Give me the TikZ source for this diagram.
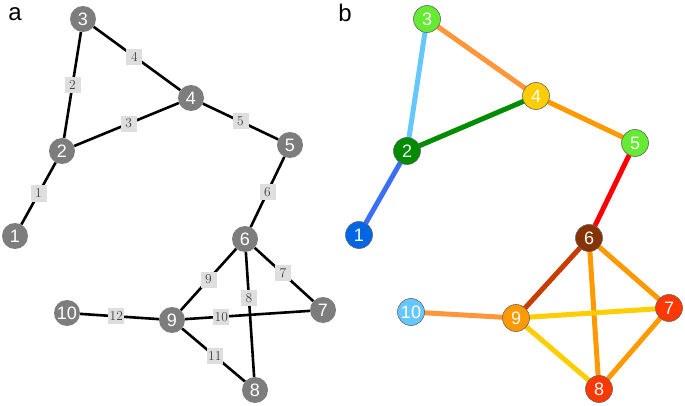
\documentclass[tikz,border=0pt]{standalone}
\usepackage{fontspec}
\newfontfamily\arialfont{Liberation Sans}
\usepackage{tikz}
\usetikzlibrary{positioning,backgrounds}
\definecolor{nodegray}{RGB}{125,125,125}
\definecolor{boxgray}{RGB}{222,222,222}
\definecolor{cBlue}{RGB}{0,102,230}
\definecolor{cBlueE}{RGB}{60,110,245}
\definecolor{cDkGreen}{RGB}{0,140,0}
\definecolor{cLtGreen}{RGB}{100,235,50}
\definecolor{cGold}{RGB}{255,204,0}
\definecolor{cBrown}{RGB}{135,50,5}
\definecolor{cRedOr}{RGB}{255,55,0}
\definecolor{cOrange}{RGB}{255,153,0}
\definecolor{cLtOr}{RGB}{255,150,60}
\definecolor{cSky}{RGB}{100,200,255}
\definecolor{cRust}{RGB}{200,60,0}
\definecolor{cYellow}{RGB}{255,205,0}
\definecolor{cRed}{RGB}{255,0,0}
\tikzset{
  gvtx/.style  ={circle, fill=nodegray, minimum size=26pt, inner sep=0pt,
                 text=white, font=\arialfont\fontsize{18}{18}\selectfont},
  cvtx/.style  ={circle, draw=black!60, line width=0.6pt, minimum size=27pt,
                 inner sep=0pt, text=white,
                 font=\arialfont\fontsize{18}{18}\selectfont},
  gedge/.style ={line width=2.6pt, black},
  cedge/.style ={line width=5pt},
  elbl/.style  ={fill=boxgray, inner sep=1.5pt, minimum size=16pt,
                 font=\fontsize{13.5}{13.5}\selectfont, text=black!75},
  panel/.style ={font=\arialfont\fontsize{24}{24}\selectfont},
}
\begin{document}
\begin{tikzpicture}[x=1pt, y=-1pt]
  \useasboundingbox (0,0) rectangle (685,406);
  % ---- left: plain network, numbered edges
  \node[panel] (pa) at (15,14) {a};
  \node[gvtx] (a1)  at ( 15,236) {1};
  \node[gvtx] (a2)  at ( 62,151) {2};
  \node[gvtx] (a3)  at ( 83, 19) {3};
  \node[gvtx] (a4)  at (191, 98) {4};
  \node[gvtx] (a5)  at (290,145) {5};
  \node[gvtx] (a6)  at (245,239) {6};
  \node[gvtx] (a7)  at (323,310) {7};
  \node[gvtx] (a8)  at (255,390) {8};
  \node[gvtx] (a9)  at (172,320) {9};
  \node[gvtx] (a10) at ( 67,313) {10};
  \draw[gedge] (a1) -- (a2) node[elbl, midway] {1};
  \draw[gedge] (a2) -- (a3) node[elbl, midway] {2};
  \draw[gedge] (a2) -- (a4) node[elbl, pos=0.52] {3};
  \draw[gedge] (a3) -- (a4) node[elbl, pos=0.47] {4};
  \draw[gedge] (a4) -- (a5) node[elbl, midway] {5};
  \draw[gedge] (a5) -- (a6) node[elbl, midway] {6};
  \draw[gedge] (a6) -- (a7) node[elbl, pos=0.48] {7};
  \draw[gedge] (a6) -- (a8) node[elbl, pos=0.37] {8};
  \draw[gedge] (a6) -- (a9) node[elbl, midway] {9};
  \draw[gedge] (a9) -- (a7) node[elbl, pos=0.29] {10};
  \draw[gedge] (a9) -- (a8) node[elbl, pos=0.52] {11};
  \draw[gedge] (a10) -- (a9) node[elbl, pos=0.46] {12};
  % ---- right: same network, coloured nodes and edges
  \node[panel] (pb) at (345,13) {b};
  \node[cvtx, fill=cBlue]    (b1)  at (359,235) {1};
  \node[cvtx, fill=cDkGreen] (b2)  at (407,151) {2};
  \node[cvtx, fill=cLtGreen] (b3)  at (427,19)  {3};
  \node[cvtx, fill=cGold]    (b4)  at (536,96)  {4};
  \node[cvtx, fill=cLtGreen] (b5)  at (635,143) {5};
  \node[cvtx, fill=cBrown]   (b6)  at (589,238) {6};
  \node[cvtx, fill=cRedOr]   (b7)  at (669,308) {7};
  \node[cvtx, fill=cRedOr]   (b8)  at (599,389) {8};
  \node[cvtx, fill=cOrange]  (b9)  at (516,318) {9};
  \node[cvtx, fill=cSky]     (b10) at (411,312) {10};
  \begin{scope}[on background layer]
  \draw[cedge, cBlueE]   (b1.center) -- (b2.center);
  \draw[cedge, cSky]     (b2.center) -- (b3.center);
  \draw[cedge, cDkGreen] (b2.center) -- (b4.center);
  \draw[cedge, cLtOr]    (b3.center) -- (b4.center);
  \draw[cedge, cOrange]  (b4.center) -- (b5.center);
  \draw[cedge, cRed]     (b5.center) -- (b6.center);
  \draw[cedge, cRust]    (b6.center) -- (b9.center);
  \draw[cedge, cOrange]  (b6.center) -- (b7.center);
  \draw[cedge, cOrange]  (b6.center) -- (b8.center);
  \draw[cedge, cOrange]  (b7.center) -- (b8.center);
  \draw[cedge, cYellow]  (b9.center) -- (b7.center);
  \draw[cedge, cYellow]  (b9.center) -- (b8.center);
  \draw[cedge, cLtOr]    (b10.center) -- (b9.center);
  \end{scope}
\end{tikzpicture}
\end{document}
